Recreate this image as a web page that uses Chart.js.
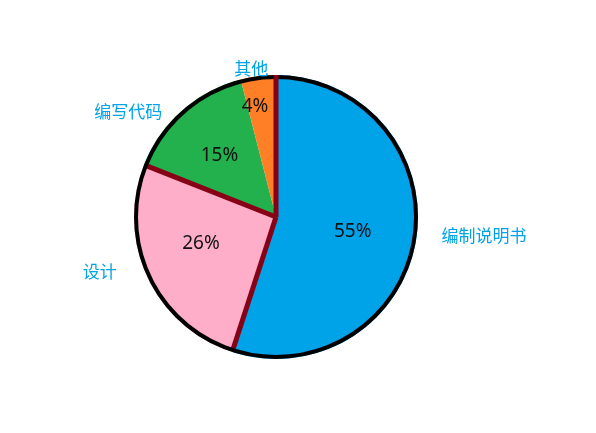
<!DOCTYPE html>
<html>
<head>
<meta charset="utf-8">
<script src="https://cdn.jsdelivr.net/npm/chart.js@4.4.1/dist/chart.umd.min.js"></script>
<style>
  html, body { margin: 0; padding: 0; background: #fff; }
  #wrap { width: 596px; height: 433px; }
</style>
</head>
<body>
<div id="wrap"><canvas id="pieChart" width="596" height="433"></canvas></div>
<script>
// dados do gráfico
const categories = ['编制说明书', '设计', '编写代码', '其他'];
const shares = [55, 26, 15, 4];
const sliceColors = ['#00A2E8', '#FFAEC9', '#22B14C', '#FF7F27'];

// posição dos textos: desvio de ângulo (graus) e fator do raio
const pctRadius = [0.55, 0.56, 0.59, 0.79];
const pctTurn = [2, 6, -1, -3.6];
const nameRadius = [1.47, 1.30, 1.28, 1.06];
const nameTurn = [-3.8, 7.9, -13, -2.3];

const piePaint = {
    id: 'piePaint',
    afterDatasetsDraw(chart) {
        const ctx = chart.ctx;
        const arcs = chart.getDatasetMeta(0).data;
        const cx = arcs[0].x, cy = arcs[0].y;
        const r = arcs[0].outerRadius;

        const edge = (angle, from, to) => {
            ctx.beginPath();
            ctx.moveTo(cx + Math.cos(angle) * from, cy + Math.sin(angle) * from);
            ctx.lineTo(cx + Math.cos(angle) * to, cy + Math.sin(angle) * to);
            ctx.stroke();
        };

        ctx.save();
        // linhas vermelhas do setor "设计"
        ctx.strokeStyle = '#880015';
        ctx.lineWidth = 5;
        ctx.lineCap = 'butt';
        edge(arcs[1].startAngle, 0, r - 3);
        edge(arcs[1].endAngle, 0, r - 3);

        // contorno preto
        ctx.strokeStyle = '#000';
        ctx.lineWidth = 4;
        ctx.beginPath();
        ctx.arc(cx, cy, r - 2, 0, Math.PI * 2);
        ctx.stroke();

        // linha vertical no topo
        ctx.strokeStyle = '#880015';
        ctx.lineWidth = 5;
        edge(arcs[3].endAngle, 0, r);

        // percentuais
        ctx.textAlign = 'center';
        ctx.textBaseline = 'middle';
        ctx.fillStyle = '#111';
        ctx.font = '19px "Noto Sans", "DejaVu Sans", sans-serif';
        arcs.forEach((arc, i) => {
            const a = (arc.startAngle + arc.endAngle) / 2 + pctTurn[i] * Math.PI / 180;
            const d = r * pctRadius[i];
            ctx.fillText(shares[i] + '%', cx + Math.cos(a) * d, cy + Math.sin(a) * d);
        });

        // nomes das categorias
        ctx.fillStyle = '#00A2E8';
        ctx.font = '17px "Noto Sans CJK SC", sans-serif';
        arcs.forEach((arc, i) => {
            const a = (arc.startAngle + arc.endAngle) / 2 + nameTurn[i] * Math.PI / 180;
            const d = r * nameRadius[i];
            ctx.fillText(categories[i], cx + Math.cos(a) * d, cy + Math.sin(a) * d);
        });
        ctx.restore();
    }
};

new Chart(document.getElementById('pieChart'), {
    type: 'pie',
    data: {
        labels: categories,
        datasets: [{
            data: shares,
            backgroundColor: sliceColors,
            borderWidth: 0
        }]
    },
    options: {
        responsive: false,
        animation: false,
        devicePixelRatio: 1,
        layout: {
            padding: { top: 75, bottom: 74, left: 100, right: 144 }
        },
        plugins: {
            legend: { display: false },
            tooltip: { enabled: false }
        }
    },
    plugins: [piePaint]
});
</script>
</body>
</html>
